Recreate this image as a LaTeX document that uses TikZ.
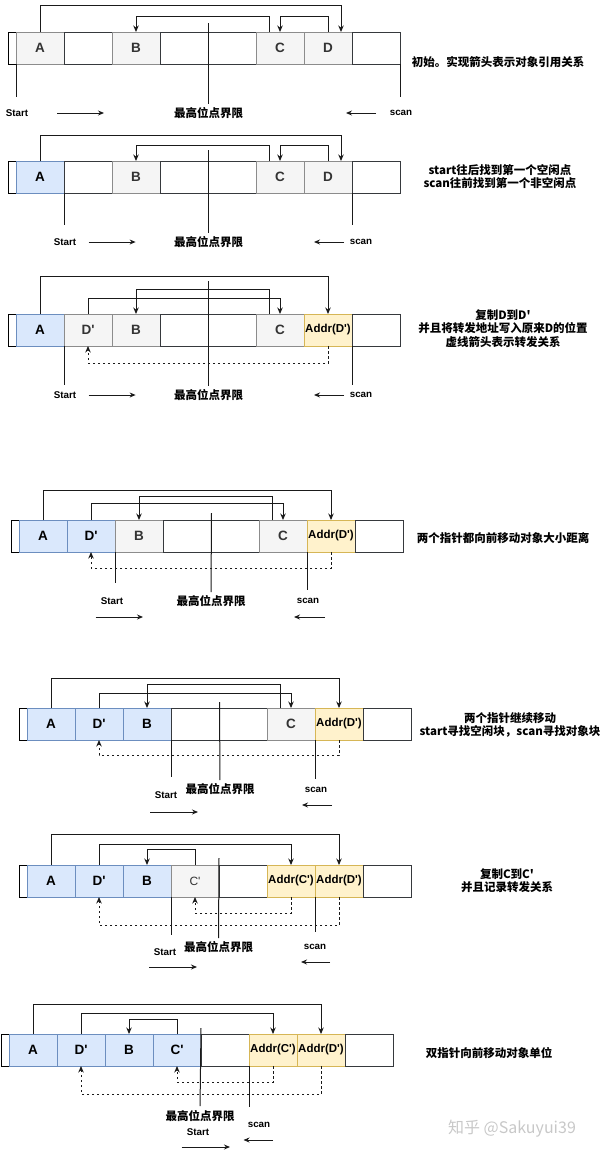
\documentclass[tikz,border=0pt]{standalone}
\usepackage{fontspec}
\newfontfamily\lat{Liberation Sans}
\newfontfamily\cjk{Noto Sans CJK SC}
\usetikzlibrary{arrows.meta}
\definecolor{bfill}{HTML}{DAE8FC}
\definecolor{bdraw}{HTML}{6C8EBF}
\definecolor{gfill}{HTML}{F5F5F5}
\definecolor{gdraw}{HTML}{8C8C8C}
\definecolor{gtext}{HTML}{333333}
\definecolor{yfill}{HTML}{FFF2CC}
\definecolor{ydraw}{HTML}{D6B656}
\definecolor{edraw}{HTML}{36393D}
\definecolor{lcol}{HTML}{1A1A1A}
\definecolor{wm}{HTML}{C8C8C8}
\begin{document}
\begin{tikzpicture}[x=1pt,y=-1pt,
 box/.style={draw=black, anchor=north west, minimum width=392pt, minimum height=32pt, inner sep=0pt, outer sep=0pt, line width=0.8pt},
 cell/.style={anchor=north west, minimum width=48pt, minimum height=32pt, inner sep=0pt, outer sep=0pt, line width=0.8pt, font=\lat\fontsize{13.5}{13.5}\selectfont\bfseries},
 cellE/.style={cell, draw=edraw, fill=white},
 cellG/.style={cell, draw=gdraw, fill=gfill, text=gtext},
 cellB/.style={cell, draw=bdraw, fill=bfill},
 cellY/.style={cell, draw=ydraw, fill=yfill, font=\lat\fontsize{11.5}{12}\selectfont\bfseries},
 ref/.style={draw=lcol, line width=0.9pt, -{Stealth[length=6.5pt,width=5.5pt]}},
 fwd/.style={ref, dash pattern=on 2.5pt off 2.5pt},
 guide/.style={draw=lcol, line width=1pt},
 dir/.style={draw=lcol, line width=0.9pt, -{Stealth[length=6pt,width=5pt]}},
 lbl/.style={font=\lat\fontsize{9.8}{10}\selectfont\bfseries, inner sep=1pt},
 maxlbl/.style={font=\cjk\fontsize{11.5}{12}\selectfont\bfseries, inner sep=1pt},
 note/.style={font=\cjk\fontsize{11.5}{13.4}\selectfont\bfseries, align=center, inner sep=0pt},
]
\useasboundingbox (0,0) rectangle (600,1154);

% ---------------- Panel 1 ----------------
\node[box] (p1box) at (8,32) {};
\node[cellG] (p1a) at (16,32) {A};
\node[cellE] (p1e1) at (64,32) {};
\node[cellG] (p1b) at (112,32) {B};
\node[cellE, minimum width=96pt] (p1e2) at (160,32) {};
\node[cellG] (p1c) at (256,32) {C};
\node[cellG] (p1d) at (304,32) {D};
\node[cellE] (p1e3) at (352,32) {};
\draw[ref] (p1a.north) -- ++(0,-27) -| ([xshift=13pt]p1d.north);
\draw[ref] ([xshift=-11pt]p1c.north) -- ++(0,-16) -| (p1b.north);
\draw[ref] (p1d.north) -- ++(0,-16) -| (p1c.north);
\coordinate (p1top) at (208.5,23);
\node[maxlbl] (p1max) at (208.5,113) {最高位点界限};
\draw[guide, shorten >=2pt] (p1top) -- (p1max.north);
\node[lbl] (p1s) at (17,113) {Start};
\draw[guide] (p1a.south west) -- ++(0,33);
\coordinate (p1s1) at (57,113); \coordinate (p1s2) at (104,113);
\draw[dir] (p1s1) -- (p1s2);
\node[lbl] (p1k) at (401,113) {scan};
\draw[guide] (p1e3.south east) -- ++(0,33);
\coordinate (p1k1) at (376,113); \coordinate (p1k2) at (346,113);
\draw[dir] (p1k1) -- (p1k2);
\node[note] (p1n) at (498,62) {初始。实现箭头表示对象引用关系};

% ---------------- Panel 2 ----------------
\node[box] (p2box) at (8,161) {};
\node[cellB] (p2a) at (16,161) {A};
\node[cellE] (p2e1) at (64,161) {};
\node[cellG] (p2b) at (112,161) {B};
\node[cellE, minimum width=96pt] (p2e2) at (160,161) {};
\node[cellG] (p2c) at (256,161) {C};
\node[cellG] (p2d) at (304,161) {D};
\node[cellE] (p2e3) at (352,161) {};
\draw[ref] (p2a.north) -- ++(0,-26) -| ([xshift=13pt]p2d.north);
\draw[ref] ([xshift=-11pt]p2c.north) -- ++(0,-16) -| (p2b.north);
\draw[ref] (p2d.north) -- ++(0,-16) -| (p2c.north);
\coordinate (p2top) at (208.5,150);
\node[maxlbl] (p2max) at (208.5,242) {最高位点界限};
\draw[guide, shorten >=2pt] (p2top) -- (p2max.north);
\node[lbl] (p2s) at (65,242) {Start};
\draw[guide] (p2a.south east) -- ++(0,32);
\coordinate (p2s1) at (88.6,242); \coordinate (p2s2) at (135.6,242);
\draw[dir] (p2s1) -- (p2s2);
\node[lbl] (p2k) at (361,242) {scan};
\draw[guide] (p2d.south east) -- ++(0,32);
\coordinate (p2k1) at (344,242); \coordinate (p2k2) at (314,242);
\draw[dir] (p2k1) -- (p2k2);
\node[note] (p2n) at (500,176.7) {start往后找到第一个空闲点\\scan往前找到第一个非空闲点};

% ---------------- Panel 3 ----------------
\node[box] (p3box) at (8,314) {};
\node[cellB] (p3a) at (16,314) {A};
\node[cellG] (p3dp) at (64,314) {D'};
\node[cellG] (p3b) at (112,314) {B};
\node[cellE, minimum width=96pt] (p3e2) at (160,314) {};
\node[cellG] (p3c) at (256,314) {C};
\node[cellY] (p3ad) at (304,314) {Addr(D')};
\node[cellE] (p3e3) at (352,314) {};
\draw[ref] (p3a.north) -- ++(0,-38) -| (p3ad.north);
\draw[ref] (p3dp.north) -- ++(0,-16) -| (p3c.north);
\draw[ref] ([xshift=-11pt]p3c.north) -- ++(0,-25) -| (p3b.north);
\draw[fwd] (p3ad.south) -- ++(0,17) -| (p3dp.south);
\coordinate (p3top) at (208.5,281);
\node[maxlbl] (p3max) at (208.5,395) {最高位点界限};
\draw[guide, shorten >=2pt] (p3top) -- (p3max.north);
\node[lbl] (p3s) at (65,395) {Start};
\draw[guide] (p3a.south east) -- ++(0,39);
\coordinate (p3s1) at (88.6,395); \coordinate (p3s2) at (135.6,395);
\draw[dir] (p3s1) -- (p3s2);
\node[lbl] (p3k) at (361,395) {scan};
\draw[guide] (p3ad.south east) -- ++(0,39);
\coordinate (p3k1) at (344,395); \coordinate (p3k2) at (314,395);
\draw[dir] (p3k1) -- (p3k2);
\node[note] (p3n) at (503,328.3) {复制D到D'\\并且将转发地址写入原来D的位置\\虚线箭头表示转发关系};

% ---------------- Panel 4 ----------------
\node[box] (p4box) at (11,520) {};
\node[cellB] (p4a) at (19,520) {A};
\node[cellB] (p4dp) at (67,520) {D'};
\node[cellG] (p4b) at (115,520) {B};
\node[cellE, minimum width=96pt] (p4e2) at (163,520) {};
\node[cellG] (p4c) at (259,520) {C};
\node[cellY] (p4ad) at (307,520) {Addr(D')};
\node[cellE] (p4e3) at (355,520) {};
\draw[ref] (p4a.north) -- ++(0,-30) -| (p4ad.north);
\draw[ref] (p4dp.north) -- ++(0,-17) -| (p4c.north);
\draw[ref] ([xshift=-11pt]p4c.north) -- ++(0,-24) -| (p4b.north);
\draw[fwd] (p4ad.south) -- ++(0,16) -| (p4dp.south);
\coordinate (p4top) at (211.5,513);
\node[maxlbl] (p4max) at (211,601) {最高位点界限};
\draw[guide, shorten >=2pt] (p4top) -- (p4max.north);
\node[lbl] (p4s) at (112,601) {Start};
\draw[guide] (p4dp.south east) -- ++(0,31);
\coordinate (p4s1) at (95.5,617); \coordinate (p4s2) at (143,617);
\draw[dir] (p4s1) -- (p4s2);
\node[lbl] (p4k) at (308,601) {scan};
\draw[guide] (p4c.south east) -- ++(0,38);
\coordinate (p4k1) at (325,617); \coordinate (p4k2) at (294,617);
\draw[dir] (p4k1) -- (p4k2);
\node[note] (p4n) at (503,538) {两个指针都向前移动对象大小距离};

% ---------------- Panel 5 ----------------
\node[box] (p5box) at (19,708) {};
\node[cellB] (p5a) at (27,708) {A};
\node[cellB] (p5dp) at (75,708) {D'};
\node[cellB] (p5b) at (123,708) {B};
\node[cellE, minimum width=96pt] (p5e2) at (171,708) {};
\node[cellG] (p5c) at (267,708) {C};
\node[cellY] (p5ad) at (315,708) {Addr(D')};
\node[cellE] (p5e3) at (363,708) {};
\draw[ref] (p5a.north) -- ++(0,-30) -| (p5ad.north);
\draw[ref] (p5dp.north) -- ++(0,-15) -| (p5c.north);
\draw[ref] ([xshift=-11pt]p5c.north) -- ++(0,-24) -| (p5b.north);
\draw[fwd] (p5ad.south) -- ++(0,15) -| (p5dp.south);
\coordinate (p5top) at (219.5,702);
\node[maxlbl] (p5max) at (220,789) {最高位点界限};
\draw[guide, shorten >=2pt] (p5top) -- (p5max.north);
\node[lbl] (p5s) at (166,795) {Start};
\draw[guide] (p5b.south east) -- ++(0,37);
\coordinate (p5s1) at (150,812); \coordinate (p5s2) at (198,812);
\draw[dir] (p5s1) -- (p5s2);
\node[lbl] (p5k) at (316,790) {scan};
\draw[guide] (p5c.south east) -- ++(0,39);
\coordinate (p5k1) at (332,805); \coordinate (p5k2) at (302,805);
\draw[dir] (p5k1) -- (p5k2);
\node[note] (p5n) at (510,725) {两个指针继续移动\\start寻找空闲块，scan寻找对象块};

% ---------------- Panel 6 ----------------
\node[box] (p6box) at (19,865) {};
\node[cellB] (p6a) at (27,865) {A};
\node[cellB] (p6dp) at (75,865) {D'};
\node[cellB] (p6b) at (123,865) {B};
\node[cellG, font=\lat\fontsize{12}{12}\selectfont] (p6cp) at (171,865) {C'};
\node[cellE] (p6e2) at (219,865) {};
\node[cellY] (p6ac) at (267,865) {Addr(C')};
\node[cellY] (p6ad) at (315,865) {Addr(D')};
\node[cellE] (p6e3) at (363,865) {};
\draw[ref] (p6a.north) -- ++(0,-31) -| (p6ad.north);
\draw[ref] (p6dp.north) -- ++(0,-21) -| (p6ac.north);
\draw[ref] (p6cp.north) -- ++(0,-16) -| (p6b.north);
\draw[fwd] (p6ac.south) -- ++(0,16) -| (p6cp.south);
\draw[fwd] (p6ad.south) -- ++(0,28) -| (p6dp.south);
\coordinate (p6top) at (219,858);
\node[maxlbl] (p6max) at (218.5,947) {最高位点界限};
\draw[guide, shorten >=2pt] (p6top) -- (p6max.north);
\node[lbl] (p6s) at (165,952) {Start};
\draw[guide] (p6b.south east) -- ++(0,38);
\coordinate (p6s1) at (149,967); \coordinate (p6s2) at (197,967);
\draw[dir] (p6s1) -- (p6s2);
\node[lbl] (p6k) at (315,947) {scan};
\draw[guide] (p6ac.south east) -- ++(0,35);
\coordinate (p6k1) at (330,962); \coordinate (p6k2) at (301,962);
\draw[dir] (p6k1) -- (p6k2);
\node[note] (p6n) at (507,880.5) {复制C到C'\\并且记录转发关系};

% ---------------- Panel 7 ----------------
\node[box] (p7box) at (1,1034) {};
\node[cellB] (p7a) at (9,1034) {A};
\node[cellB] (p7dp) at (57,1034) {D'};
\node[cellB] (p7b) at (105,1034) {B};
\node[cellB] (p7cp) at (153,1034) {C'};
\node[cellE] (p7e2) at (201,1034) {};
\node[cellY] (p7ac) at (249,1034) {Addr(C')};
\node[cellY] (p7ad) at (297,1034) {Addr(D')};
\node[cellE] (p7e3) at (345,1034) {};
\draw[ref] (p7a.north) -- ++(0,-30) -| (p7ad.north);
\draw[ref] (p7dp.north) -- ++(0,-21) -| (p7ac.north);
\draw[ref] (p7cp.north) -- ++(0,-15) -| (p7b.north);
\draw[fwd] (p7ac.south) -- ++(0,16) -| (p7cp.south);
\draw[fwd] (p7ad.south) -- ++(0,28) -| (p7dp.south);
\coordinate (p7top) at (201,1028);
\node[maxlbl] (p7max) at (200,1116) {最高位点界限};
\draw[guide, shorten >=3pt] (p7top) -- (p7max.north);
\node[lbl] (p7s) at (198,1132) {Start};
\coordinate (p7s1) at (181.7,1147); \coordinate (p7s2) at (230,1147);
\draw[dir] (p7s1) -- (p7s2);
\node[lbl] (p7k) at (259,1125) {scan};
\draw[guide] (p7ac.south west) -- ++(0,41);
\coordinate (p7k1) at (273,1140); \coordinate (p7k2) at (243.5,1140);
\draw[dir] (p7k1) -- (p7k2);
\node[note] (p7n) at (489,1053) {双指针向前移动对象单位};
\node[font=\cjk\fontsize{16}{16}\selectfont, text=wm, inner sep=0pt] (wmk) at (512,1129) {知乎 @Sakuyui39};
\end{tikzpicture}
\end{document}
